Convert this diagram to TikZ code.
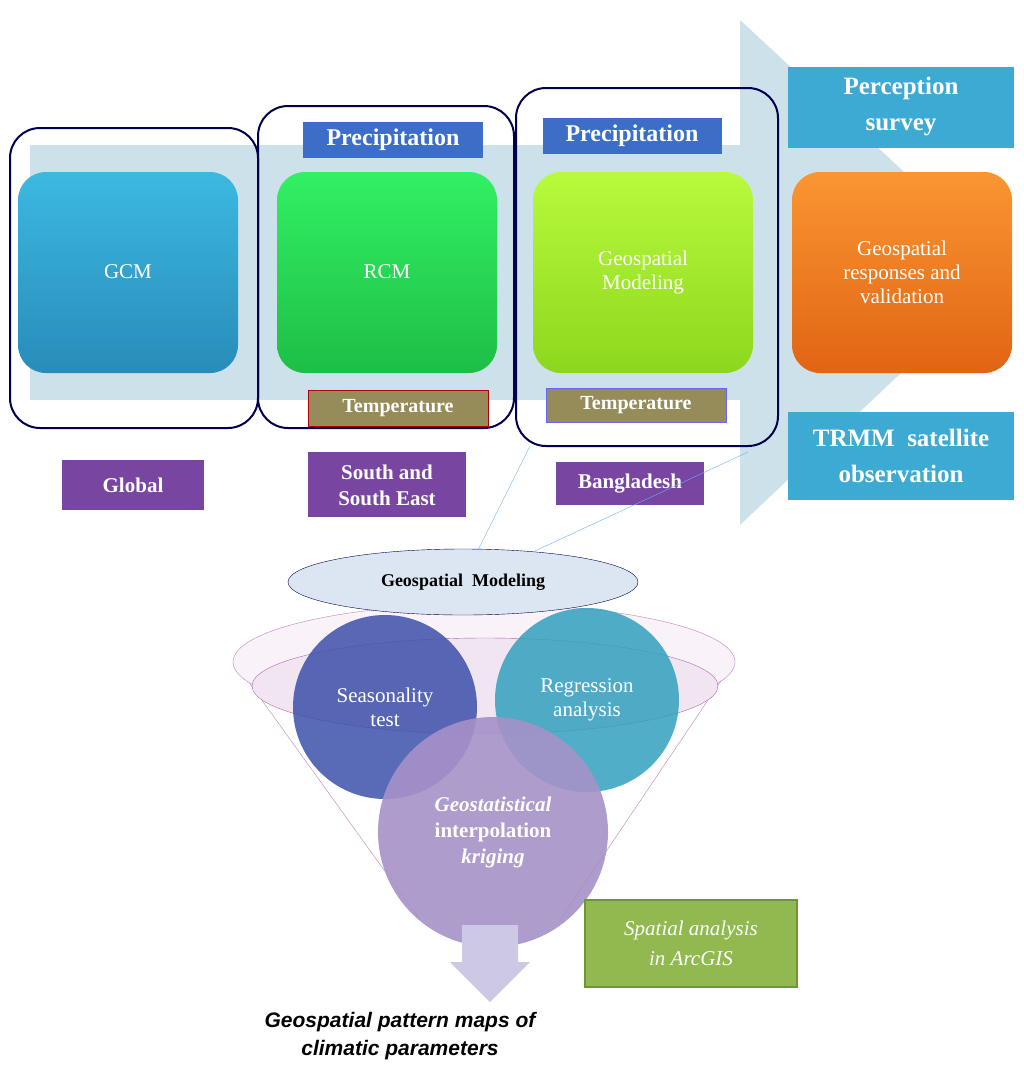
\documentclass[tikz,border=0pt]{standalone}
\usepackage{fontspec}
\usetikzlibrary{shapes.geometric}
\setmainfont{Liberation Serif}
\newfontfamily\sans{Liberation Sans}
\definecolor{lb}{RGB}{205,225,235}
\definecolor{tealc}{RGB}{60,170,210}
\definecolor{olivec}{RGB}{150,140,90}
\definecolor{purpc}{RGB}{120,70,160}
\definecolor{bluec}{RGB}{60,110,200}
\definecolor{ellc}{RGB}{220,230,242}
\definecolor{c1}{RGB}{60,80,170}
\definecolor{c2}{RGB}{50,160,190}
\definecolor{c3}{RGB}{165,145,200}
\definecolor{grc}{RGB}{145,185,80}
\definecolor{grd}{RGB}{110,150,50}
\definecolor{arr}{RGB}{205,200,228}
\definecolor{g1a}{RGB}{60,185,225}\definecolor{g1b}{RGB}{40,140,185}
\definecolor{g2a}{RGB}{50,240,100}\definecolor{g2b}{RGB}{30,190,70}
\definecolor{g3a}{RGB}{185,250,60}\definecolor{g3b}{RGB}{140,215,30}
\definecolor{g4a}{RGB}{250,150,50}\definecolor{g4b}{RGB}{225,100,20}
\begin{document}
\begin{tikzpicture}[x=1pt,y=-1pt,
 big/.style={rounded corners=28pt},
 bt/.style={text=white,align=center,font=\fontsize{21}{24}\selectfont},
 outl/.style={draw=black!70!blue,line width=2pt,rounded corners=30pt},
 lab/.style={text=white,font=\bfseries\fontsize{24}{26}\selectfont,align=center},
 purp/.style={text=white,font=\bfseries\fontsize{21}{26}\selectfont,align=center}]
\useasboundingbox (0,0) rectangle (1024,1079);
\fill[lb] (30,145) rectangle (740,400);
\fill[lb] (740,20) -- (1010,270) -- (740,525) -- cycle;
\shade[big,top color=g1a,bottom color=g1b] (18,172) rectangle (238,373);
\node[bt] (gcm) at (128,272) {GCM};
\shade[big,top color=g2a,bottom color=g2b] (277,172) rectangle (497,373);
\node[bt] (rcm) at (387,272) {RCM};
\shade[big,top color=g3a,bottom color=g3b] (533,172) rectangle (753,373);
\node[bt] (geo) at (643,272) {Geospatial\\Modeling};
\shade[big,top color=g4a,bottom color=g4b] (792,172) rectangle (1012,373);
\node[bt] (resp) at (902,272) {Geospatial\\responses and\\validation};
\draw[outl] (10,128) rectangle (258,428);
\draw[outl] (258,106) rectangle (514,428);
\draw[outl] (516,88) rectangle (778,446);
\fill[bluec] (303,122) rectangle (483,158);
\node[lab] (p1) at (393,140) {Precipitation};
\fill[bluec] (543,118) rectangle (722,154);
\node[lab] (p2) at (632,136) {Precipitation};
\draw[fill=olivec,draw=red!70!black] (308,390) rectangle (488,426);
\node[text=white,font=\bfseries\fontsize{20}{22}\selectfont] (t1) at (398,408) {Temperature};
\draw[fill=olivec,draw=blue!60] (546,388) rectangle (726,422);
\node[text=white,font=\bfseries\fontsize{20}{22}\selectfont] (t2) at (636,405) {Temperature};
\fill[tealc] (788,67) rectangle (1014,148);
\node[lab,font=\bfseries\fontsize{25}{36}\selectfont] (ps) at (901,107) {Perception\\survey};
\fill[tealc] (788,412) rectangle (1014,500);
\node[lab,font=\bfseries\fontsize{25}{36}\selectfont] (tr) at (901,456) {TRMM\ \ satellite\\observation};
\fill[purpc] (62,460) rectangle (204,510);
\node[purp] (gl) at (133,485) {Global};
\fill[purpc] (308,452) rectangle (466,517);
\node[purp] (ss) at (387,485) {South and\\South East};
\fill[purpc] (556,462) rectangle (704,505);
\node[purp] (bd) at (630,484) {Bangladesh};
% funnel
\draw[violet!50] (233,660) -- (420,920);
\draw[violet!50] (735,660) -- (560,920);
\draw[violet!50,fill=violet!5] (484,662) ellipse (251pt and 58pt);
\draw[violet!60,fill=violet!10] (485,686) ellipse (233pt and 48pt);
\coordinate (la) at (530,446);
\coordinate (lb2) at (748,452);
\node[draw=black!70!blue,fill=ellc,ellipse,minimum width=350pt,minimum height=66pt,inner sep=0pt] (gm) at (463,582) {};
\node[font=\bfseries\fontsize{18}{20}\selectfont] (gmt) at (463,582) {Geospatial\ \ Modeling};
\draw[blue!50!cyan!60] (la) -- (478,550);
\draw[blue!50!cyan!60] (lb2) -- (535,551);
\fill[c1,fill opacity=0.85] (385,707) circle (92pt);
\fill[c2,fill opacity=0.85] (587,700) circle (92pt);
\fill[c3,fill opacity=0.9] (493,832) circle (115pt);
\node[text=white,align=center,font=\fontsize{21}{24}\selectfont] (sea) at (385,707) {Seasonality\\test};
\node[text=white,align=center,font=\fontsize{21}{24}\selectfont] (reg) at (587,700) {Regression\\analysis};
\node[text=white,align=center,font=\bfseries\fontsize{21}{26}\selectfont] (gs) at (493,832) {\textit{Geostatistical}\\interpolation\\\textit{kriging}};
\fill[arr] (462,925) -- (518,925) -- (518,962) -- (530,962) -- (490,1002) -- (450,962) -- (462,962) -- cycle;
\draw[fill=grc,draw=grd,line width=1.5pt] (585,900) rectangle (797,987);
\node[text=white,align=center,font=\itshape\fontsize{21}{30}\selectfont] (sp) at (691,943) {Spatial analysis\\in ArcGIS};
\node[align=center,font=\sans\bfseries\itshape\fontsize{21}{28}\selectfont] (out) at (400,1036) {Geospatial pattern maps of\\climatic parameters};
\end{tikzpicture}
\end{document}
